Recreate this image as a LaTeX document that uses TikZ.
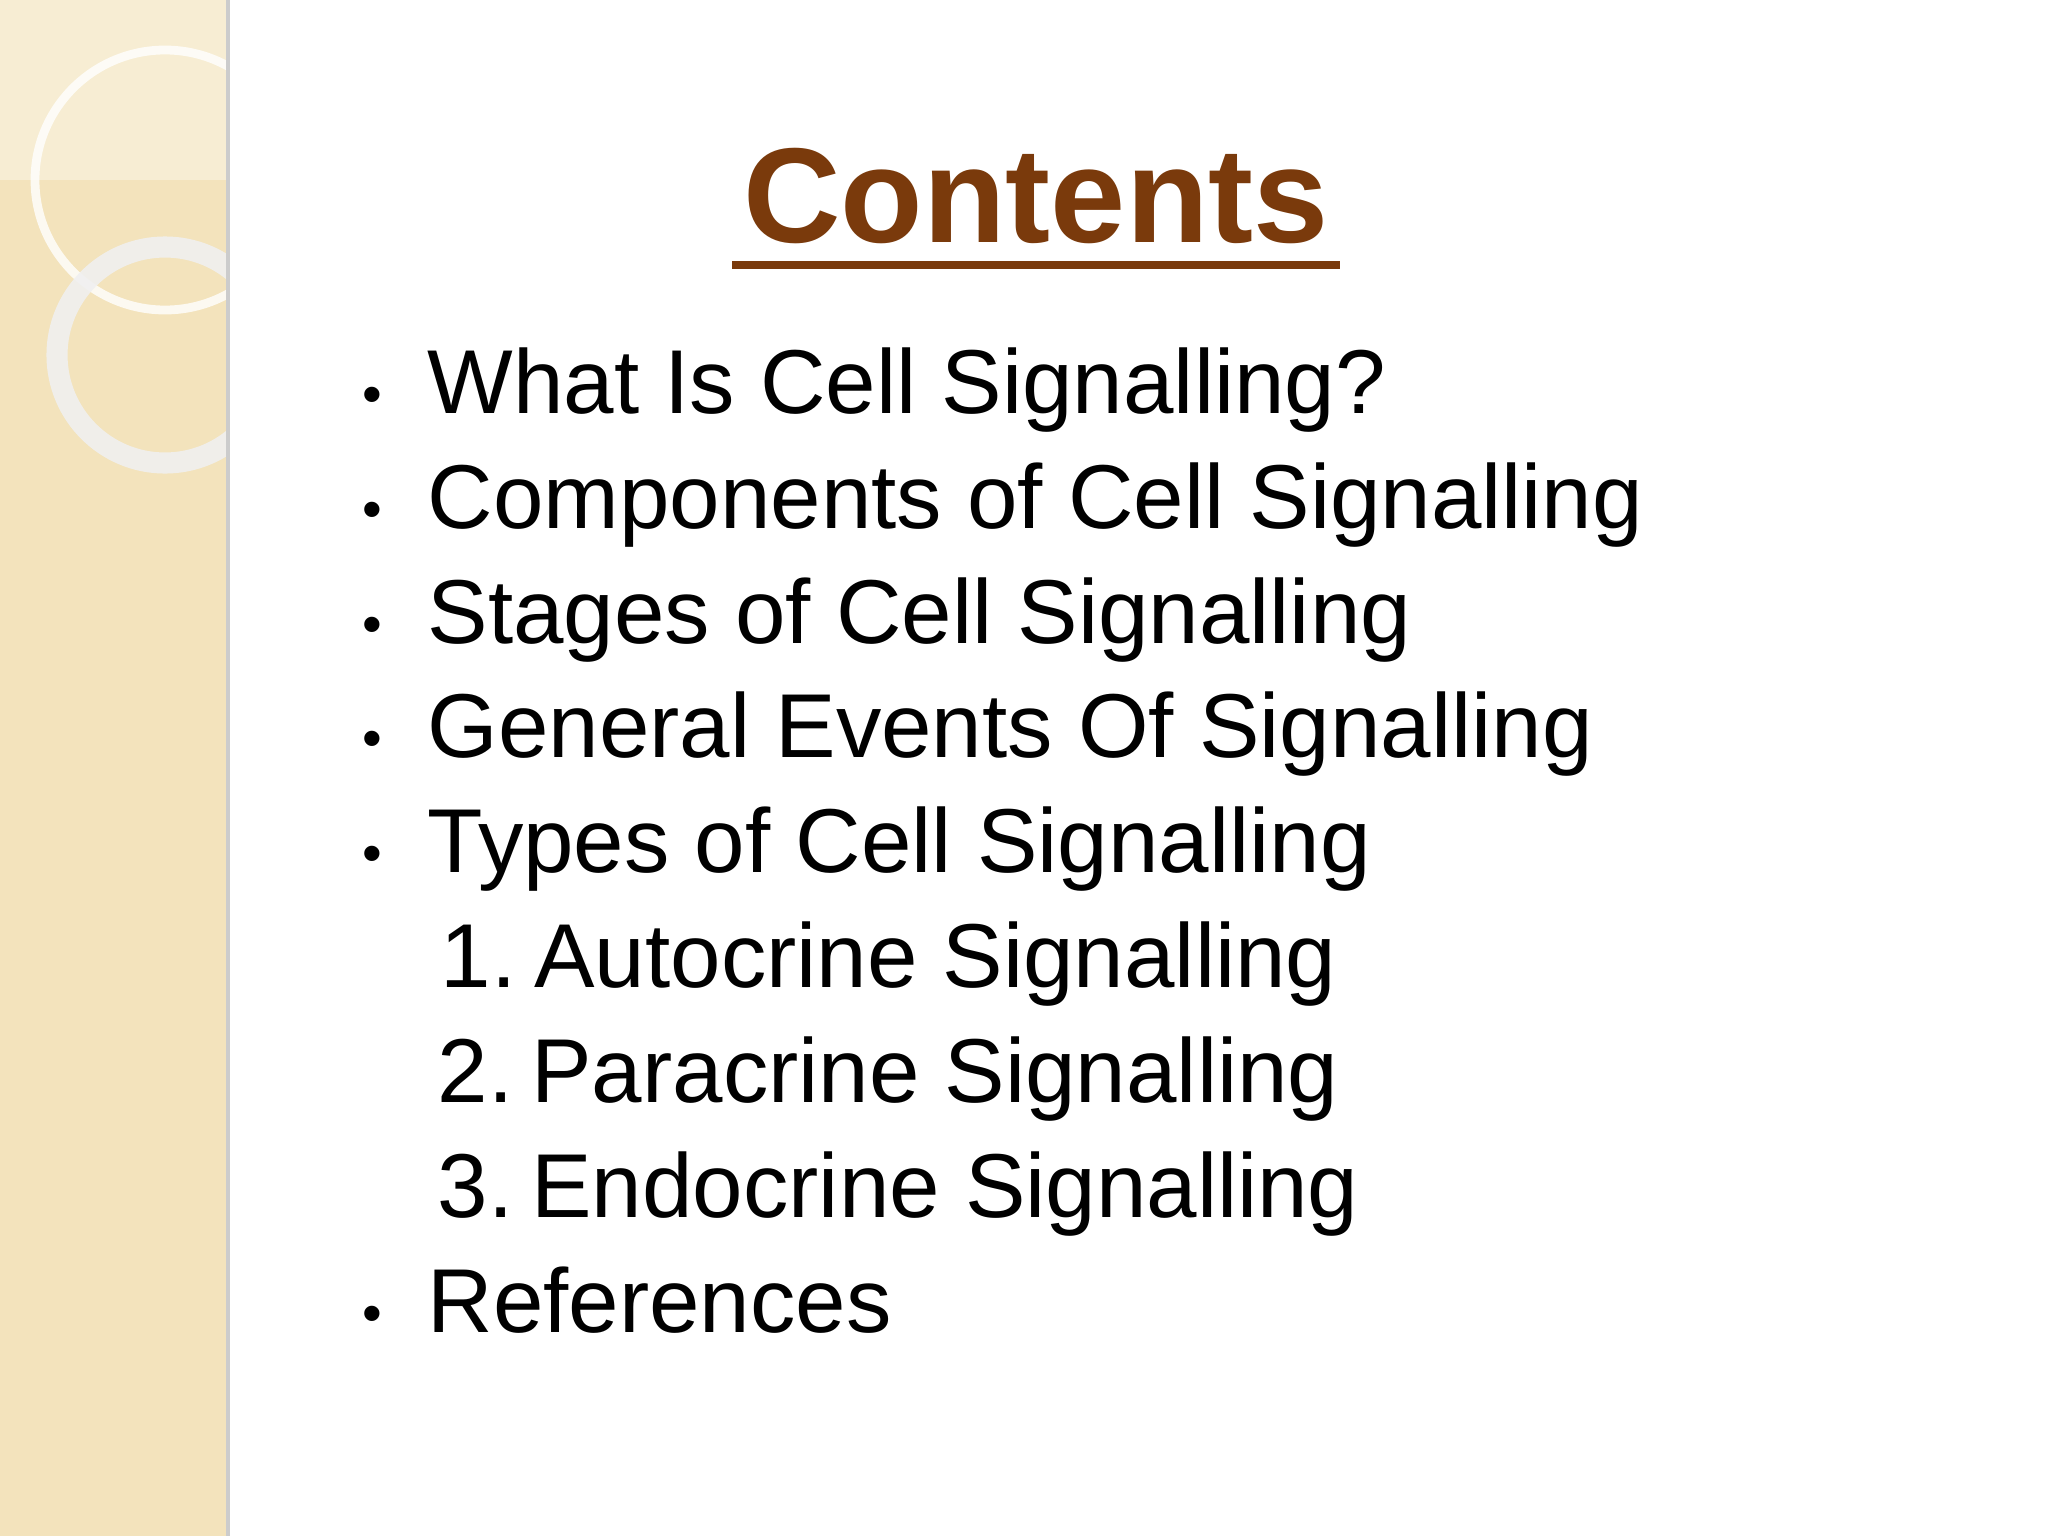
\documentclass[tikz,border=0pt]{standalone}
\usepackage{fontspec}
\setmainfont{Liberation Sans}
\definecolor{strip}{HTML}{F3E3BC}
\definecolor{stripl}{HTML}{F7EDD3}
\definecolor{brown}{HTML}{7A3A0C}
\begin{document}
\begin{tikzpicture}[x=0.01cm,y=-0.01cm,
  item/.style={anchor=base west,inner sep=0pt,font=\fontsize{25.8}{30}\selectfont},
  bul/.style={anchor=base,inner sep=0pt,font=\fontsize{16}{20}\selectfont}]
\useasboundingbox (0,0) rectangle (2048,1536);
\fill[white] (0,0) rectangle (2048,1536);
\fill[strip] (0,0) rectangle (228,1536);
\begin{scope}
\clip (0,0) rectangle (228,1536);
\fill[stripl] (0,0) rectangle (228,180);
\draw[white,line width=2.5pt,opacity=0.8] (165,180) circle (130);
\draw[white!88!gray,line width=6pt,opacity=0.9] (165,355) circle (108);
\end{scope}
\draw[gray!40,line width=1pt] (228,0) -- (228,1536);
\node[anchor=base,inner sep=0pt,text=brown,font=\fontsize{38.4}{45}\selectfont\bfseries] (title) at (1036,242) {Contents};
\draw[brown,line width=2.3pt] ([xshift=-3]title.west |- 0,265) -- ([xshift=3]title.east |- 0,265);
\foreach \y/\t [count=\i] in {413/What Is Cell Signalling?,528/Components of Cell Signalling,643/Stages of Cell Signalling,757/General Events Of Signalling,872/Types of Cell Signalling,1332/References}{
  \node[bul] (b\i) at (372,\y) {\textbullet};
  \node[item] (t\i) at (427,\y) {\t};
}
\node[item] (n1) at (440,987) {1.\hspace{0.2em}Autocrine Signalling};
\node[item] (n2) at (437,1102) {2.\hspace{0.2em}Paracrine Signalling};
\node[item] (n3) at (437,1217) {3.\hspace{0.2em}Endocrine Signalling};
\end{tikzpicture}
\end{document}
